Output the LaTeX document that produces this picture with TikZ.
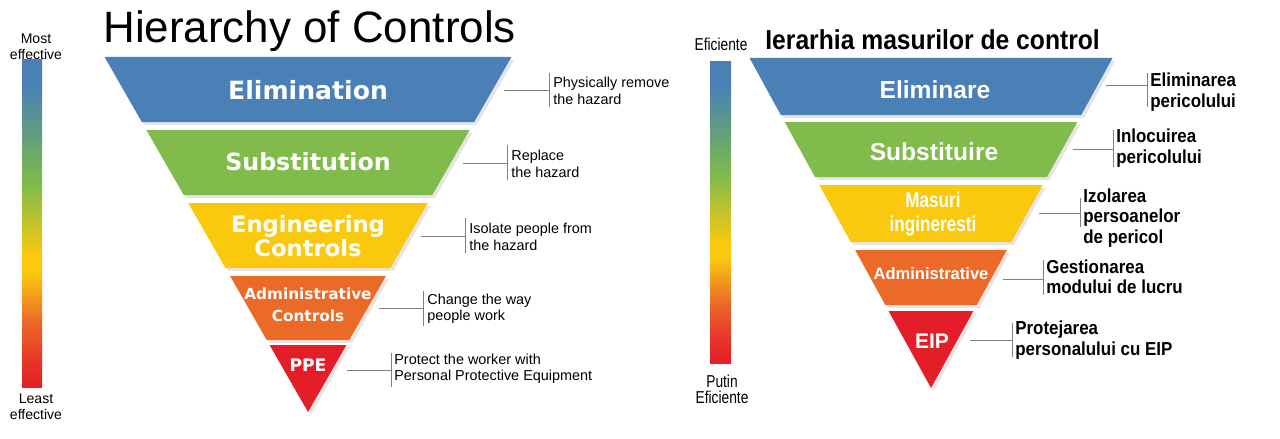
\documentclass[tikz,border=0pt]{standalone}
\usepackage{fontspec}
\setmainfont{Liberation Sans}
\newfontfamily\verdfont{DejaVu Sans}
\newfontfamily\condfont[FakeStretch=0.9]{Liberation Sans}
\newfontfamily\slimfont[FakeStretch=0.8]{Liberation Sans}
\usetikzlibrary{positioning}
\definecolor{hblue}{RGB}{74,128,181}
\definecolor{hteal}{RGB}{96,156,128}
\definecolor{hgreen}{RGB}{128,187,76}
\definecolor{hyellow}{RGB}{250,201,14}
\definecolor{horange}{RGB}{235,106,40}
\definecolor{hred}{RGB}{228,30,40}
\definecolor{guidegray}{RGB}{128,128,128}
% the middle 50bp of the shading is fitted to the bar
\pgfdeclareverticalshading{effbar}{100bp}{color(0bp)=(hred); color(25bp)=(hred);
  color(29bp)=(hred!70!horange); color(35bp)=(horange); color(42.5bp)=(hyellow);
  color(45bp)=(hyellow); color(50bp)=(hyellow!55!hgreen); color(56bp)=(hgreen);
  color(64bp)=(hteal); color(71bp)=(hblue); color(75bp)=(hblue); color(100bp)=(hblue)}
\tikzset{band/.style = {fill=#1,
                        preaction={fill=black, fill opacity=0.1,
                                   transform canvas={xshift=1.6pt, yshift=-1.6pt}}},
         guide/.style = {draw=guidegray, line width=0.5pt},
         enlabel/.style = {text=white, align=center, inner sep=0pt,
                           font=\verdfont\bfseries\fontsize{#1}{12.5}\selectfont},
         enlabel/.default = 13.5,
         rolabel/.style = {text=white, align=center, inner sep=0pt,
                           font=\bfseries\fontsize{#1}{13}\selectfont},
         rolabel/.default = 14,
         desc/.style = {anchor=west, align=left, inner sep=0pt,
                        font=\fontsize{8.2}{9.4}\selectfont},
         rodesc/.style = {anchor=west, align=left, inner sep=0pt,
                          font=\condfont\bfseries\fontsize{10.7}{11.6}\selectfont},
         scalelabel/.style = {align=center, inner sep=0pt,
                              font=\fontsize{8}{9.1}\selectfont},
         roscale/.style = {align=center, inner sep=0pt,
                           font=\slimfont\fontsize{9.8}{9.1}\selectfont}}

\begin{document}
\begin{tikzpicture}[x=0.02cm, y=-0.02cm]
  \fill[white] (0,0) rectangle (1280,439);
  \useasboundingbox (0,0) rectangle (1280,439);

  % English chart
  \node[anchor=base west, inner sep=0pt, font=\fontsize{25}{30}\selectfont]
    (entitle) at (103,43) {Hierarchy of Controls};
  \node[scalelabel] (enmost) at (36,47) {Most\\effective};
  \shade[shading=effbar] (22,60) rectangle (42,387);
  \node[scalelabel] (enleast) at (36,407) {Least\\effective};

  \fill[band=hblue] (104.6,57) -- (511.4,57) -- (474.2,122) -- (141.8,122) -- cycle;
  \fill[band=hgreen] (146.4,130) -- (469.6,130) -- (432.3,195) -- (183.7,195) -- cycle;
  \fill[band=hyellow] (188.2,203) -- (427.8,203) -- (390.5,268) -- (225.5,268) -- cycle;
  \fill[band=horange] (230.1,276) -- (385.9,276) -- (349.3,340) -- (266.7,340) -- cycle;
  \fill[band=hred] (269.6,345) -- (346.4,345) -- (308,412) -- cycle;

  \node[enlabel=14.3] (elim) at (308,90) {Elimination};
  \node[enlabel] (subst) at (308,162) {Substitution};
  \node[enlabel=12.9] (engin) at (308,236) {Engineering\\Controls};
  \node[enlabel=8.7] (admin) at (308,305) {Administrative\\Controls};
  \node[enlabel=9.8] (ppe) at (308,365) {PPE};

  \coordinate (elim-s) at (504,90);  \coordinate (elim-j) at (549,90);
  \coordinate (subst-s) at (463,163); \coordinate (subst-j) at (507,163);
  \coordinate (engin-s) at (421,236); \coordinate (engin-j) at (465,236);
  \coordinate (admin-s) at (379,308); \coordinate (admin-j) at (423,308);
  \coordinate (ppe-s) at (347,370);  \coordinate (ppe-j) at (391,370);
  \draw[guide] (elim-s) -- (elim-j) ++(0,-17) -- ++(0,34);
  \draw[guide] (subst-s) -- (subst-j) ++(0,-18) -- ++(0,35);
  \draw[guide] (engin-s) -- (engin-j) ++(0,-18) -- ++(0,35);
  \draw[guide] (admin-s) -- (admin-j) ++(0,-17) -- ++(0,35);
  \draw[guide] (ppe-s) -- (ppe-j) ++(0,-17) -- ++(0,34);

  \node[desc] (elim-d) at (553,91) {Physically remove\\the hazard};
  \node[desc] (subst-d) at (511,164) {Replace\\the hazard};
  \node[desc] (engin-d) at (469,237) {Isolate people from\\the hazard};
  \node[desc] (admin-d) at (427,309) {Change the way\\people work};
  \node[desc] (ppe-d) at (394,369) {Protect the worker with\\Personal Protective Equipment};

  % Romanian chart
  \node[roscale] (rotop) at (721,44) {Eficiente};
  \node[anchor=base west, inner sep=0pt, font=\condfont\bfseries\fontsize{15.6}{18}\selectfont]
    (rotitle) at (765,50) {Ierarhia masurilor de control};
  \shade[shading=effbar] (710,62) rectangle (731,363);
  \node[roscale] (robottom) at (722,389) {Putin\\Eficiente};

  \fill[band=hblue] (749.5,58) -- (1112.5,58) -- (1081.2,115) -- (780.8,115) -- cycle;
  \fill[band=hgreen] (784.7,122) -- (1077.3,122) -- (1047,177) -- (815,177) -- cycle;
  \fill[band=hyellow] (819.3,185) -- (1042.7,185) -- (1011.3,242) -- (850.7,242) -- cycle;
  \fill[band=horange] (855.1,250) -- (1006.9,250) -- (976.7,305) -- (885.3,305) -- cycle;
  \fill[band=hred] (888.6,311) -- (973.4,311) -- (931,388) -- cycle;

  \node[rolabel] (elimro) at (935,90) {Eliminare};
  \node[rolabel] (substro) at (934,152) {Substituire};
  \node[rolabel, font=\slimfont\bfseries\fontsize{12.2}{13.5}\selectfont]
    (enginro) at (933,214) {Masuri\\ingineresti};
  \node[rolabel=9.4] (adminro) at (931,274) {Administrative};
  \node[rolabel=12] (eip) at (932,341) {EIP};

  \coordinate (elimro-s) at (1106,85);  \coordinate (elimro-j) at (1147,85);
  \coordinate (substro-s) at (1073,149); \coordinate (substro-j) at (1113,149);
  \coordinate (enginro-s) at (1039,213); \coordinate (enginro-j) at (1080,213);
  \coordinate (adminro-s) at (1003,279); \coordinate (adminro-j) at (1043,279);
  \coordinate (eip-s) at (970,340);     \coordinate (eip-j) at (1012,340);
  \draw[guide] (elimro-s) -- (elimro-j) ++(0,-12) -- ++(0,34);
  \draw[guide] (substro-s) -- (substro-j) ++(0,-19) -- ++(0,37);
  \draw[guide] (enginro-s) -- (enginro-j) ++(0,-15) -- ++(0,29);
  \draw[guide] (adminro-s) -- (adminro-j) ++(0,-19) -- ++(0,35);
  \draw[guide] (eip-s) -- (eip-j) ++(0,-17) -- ++(0,34);

  \node[rodesc] (elimro-d) at (1150,92) {Eliminarea\\pericolului};
  \node[rodesc] (substro-d) at (1116,148) {Inlocuirea\\pericolului};
  \node[rodesc] (enginro-d) at (1083,218) {Izolarea\\persoanelor\\de pericol};
  \node[rodesc] (adminro-d) at (1046,277) {Gestionarea\\modului de lucru};
  \node[rodesc] (eip-d) at (1015,340) {Protejarea\\personalului cu EIP};
\end{tikzpicture}
\end{document}
